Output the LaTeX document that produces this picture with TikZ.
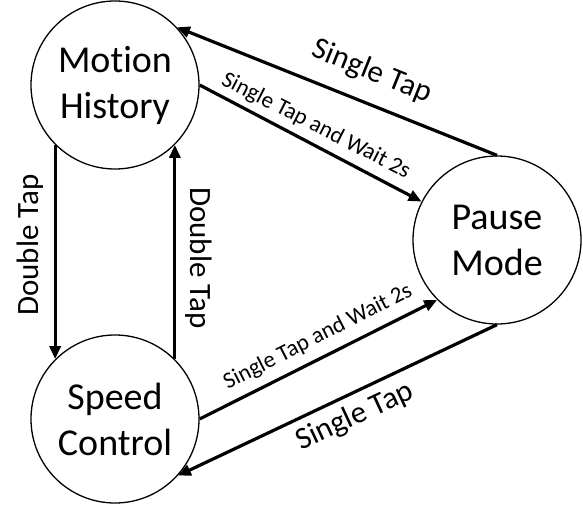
\documentclass[tikz,border=0pt]{standalone}
\usepackage{fontspec}
\setmainfont{Carlito}[RawFeature={-liga;-clig;-calt;-dlig}]
\usetikzlibrary{arrows.meta}
\begin{document}
\begin{tikzpicture}[x=1pt,y=-1pt,
 state/.style={circle,draw,line width=1.3pt,minimum size=168pt,inner sep=0pt,align=center,font=\fontsize{38}{46}\selectfont},
 conn/.style={line width=3.2pt,-{Triangle[length=13pt,width=11pt]}},
 big/.style={font=\fontsize{31}{36}\selectfont,inner sep=0pt},
 small/.style={font=\fontsize{23}{27}\selectfont,inner sep=0pt}]
\useasboundingbox (0,0) rectangle (583,505);
\node[state] (mh) at (115,85) {Motion\\History};
\node[state] (sc) at (115,419) {Speed\\Control};
\node[state] (pm) at (497,240) {Pause\\Mode};
\draw[conn] (mh.225) -- (sc.135);
\draw[conn] (sc.45) -- (mh.-45);
\draw[conn] (mh.0) -- (pm.153);
\draw[conn] (pm.90) -- (mh.43);
\draw[conn] (sc.0) -- (pm.225);
\draw[conn] (pm.270) -- (sc.-42);
\node[big,rotate=90] (l1) at (30,245) {Double Tap};
\node[big,rotate=-90] (l2) at (199,258) {Double Tap};
\node[big,rotate=-22] (l3) at (372,72) {Single Tap};
\node[small,rotate=-27] (l4) at (316,126) {Single Tap and Wait 2s};
\node[small,rotate=27] (l5) at (318,337) {Single Tap and Wait 2s};
\node[big,rotate=25] (l6) at (355,417) {Single Tap};
\end{tikzpicture}
\end{document}
